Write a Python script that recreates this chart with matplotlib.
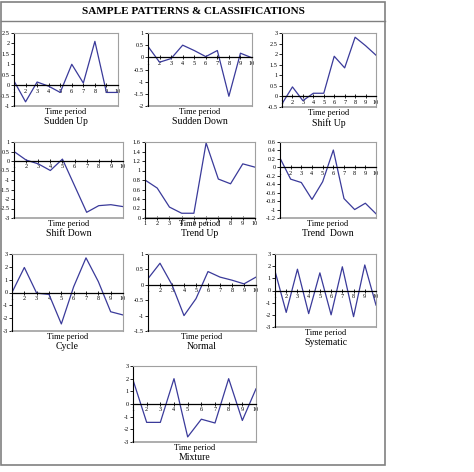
import matplotlib
matplotlib.use("Agg")
import matplotlib.pyplot as plt
from matplotlib.patches import Rectangle
from matplotlib.lines import Line2D

plt.rcParams['font.family'] = ['Liberation Serif', 'DejaVu Serif']

periods = list(range(1, 11))

sudden_up = [0.2, -0.8, 0.15, -0.05, -0.35, 1.0, 0.1, 2.1, -0.35, -0.35]
sudden_down = [0.45, -0.2, -0.05, 0.5, 0.28, 0.03, 0.28, -1.6, 0.17, -0.02]
shift_up = [-0.35, 0.45, -0.2, 0.15, 0.15, 1.9, 1.35, 2.8, 2.4, 1.95]
shift_down = [0.5, 0.05, -0.15, -0.5, 0.1, -1.3, -2.7, -2.35, -2.3, -2.4]
trend_up = [0.8, 0.63, 0.23, 0.1, 0.1, 1.58, 0.82, 0.72, 1.14, 1.07]
trend_down = [0.22, -0.28, -0.36, -0.76, -0.34, 0.41, -0.74, -1.0, -0.85, -1.1]
cycle = [0.0, 1.95, -0.05, -0.15, -2.45, 0.45, 2.7, 0.85, -1.5, -1.75]
normal = [0.2, 0.7, 0.0, -1.0, -0.45, 0.43, 0.25, 0.15, 0.03, 0.25]
systematic = [1.6, -1.8, 1.75, -1.9, 1.45, -2.0, 1.95, -2.15, 2.1, -1.2]
mixture = [1.9, -1.45, -1.45, 2.0, -2.6, -1.2, -1.5, 2.0, -1.3, 1.2]

# name, data, y-range, y step, pixel box (left, top, right, bottom)
panels = [
    ("Sudden Up", sudden_up, (-1, 2.5), 0.5, (14, 33, 118, 106)),
    ("Sudden Down", sudden_down, (-2, 1), 0.5, (148, 33, 252, 106)),
    ("Shift Up", shift_up, (-0.5, 3), 0.5, (282, 33, 376, 107)),
    ("Shift Down", shift_down, (-3, 1), 0.5, (14, 142, 123, 218)),
    ("Trend Up", trend_up, (0, 1.6), 0.2, (145, 142, 255, 218)),
    ("Trend  Down", trend_down, (-1.2, 0.6), 0.2, (280, 142, 376, 218)),
    ("Cycle", cycle, (-3, 3), 1, (12, 254, 123, 331)),
    ("Normal", normal, (-1.5, 1), 0.5, (148, 254, 256, 331)),
    ("Systematic", systematic, (-3, 3), 1, (275, 254, 376, 327)),
    ("Mixture", mixture, (-3, 3), 1, (133, 366, 256, 442)),
]

W, H = 474, 472
fig = plt.figure(figsize=(W / 100, H / 100), dpi=100)


def fx(x):
    return x / W


def fy(y):
    return 1 - y / H


# outer frame and title separator
fig.add_artist(Rectangle((fx(1), fy(465)), fx(384), (465 - 2) / H,
                         transform=fig.transFigure, fill=False,
                         edgecolor='#808080', linewidth=1.2))
fig.add_artist(Line2D([fx(1), fx(385)], [fy(21), fy(21)],
                      transform=fig.transFigure, color='#808080', linewidth=1))
fig.text(fx(193), fy(12), "SAMPLE PATTERNS & CLASSIFICATIONS",
         ha='center', va='center', fontsize=8, fontweight='bold')

for name, data, (lo, hi), step, (l, t, r, b) in panels:
    ax = fig.add_axes([fx(l), fy(b), (r - l) / W, (b - t) / H])
    ax.plot(periods, data, color='#3a3a9a', linewidth=0.9)
    ax.set_xlim(1, 10)
    ax.set_ylim(lo, hi)
    n = int(round((hi - lo) / step))
    yt = [round(lo + i * step, 2) for i in range(n + 1)]
    ax.set_yticks(yt)
    ax.set_yticklabels([f"{v:g}" for v in yt])
    ax.set_xticks(periods)
    for s in ('top', 'right'):
        ax.spines[s].set_color('#a0a0a0')
        ax.spines[s].set_linewidth(0.8)
    ax.spines['left'].set_color('black')
    ax.spines['left'].set_linewidth(0.8)
    ax.spines['bottom'].set_position(('data', 0))
    ax.spines['bottom'].set_linewidth(0.9)
    ax.axhline(lo, color='#a0a0a0', linewidth=1.2, clip_on=False)
    ax.tick_params(axis='both', labelsize=4.5, length=2, width=0.6, pad=1)
    ax.tick_params(axis='x', direction='inout', length=3)
    # "Time period" and pattern name placed in figure pixels below the box
    fig.text(fx((l + r) / 2), fy(b + 2), "Time period", ha='center',
             va='top', fontsize=6)
    fig.text(fx((l + r) / 2), fy(b + 11), name, ha='center',
             va='top', fontsize=7)

fig.savefig("out.png", dpi=100)
